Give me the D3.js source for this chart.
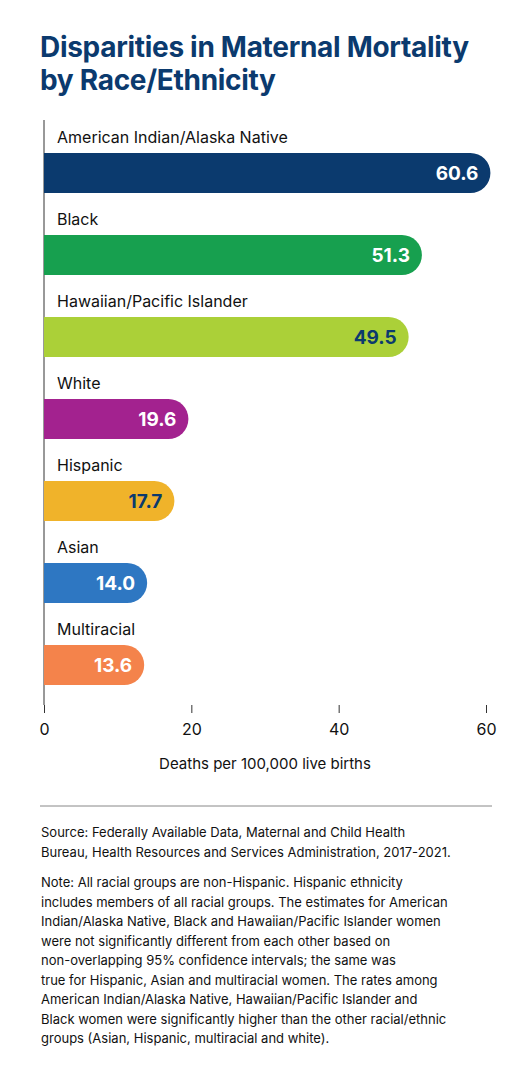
<!DOCTYPE html>
<html><head><meta charset="utf-8">
<script src="https://cdn.jsdelivr.net/npm/d3@7"></script>
<style>body{margin:0;background:#fff;font-family:Inter,"Open Sans",sans-serif}</style>
</head><body>
<svg id="chart" width="530" height="1072"></svg>
<script>
const groups = ["American Indian/Alaska Native","Black","Hawaiian/Pacific Islander","White","Hispanic","Asian","Multiracial"];
const rates = [60.6, 51.3, 49.5, 19.6, 17.7, 14.0, 13.6];
const barColors = ["#0b3a6e","#17a04f","#abd038","#a3228f","#f0b32a","#2e77c2","#f4834b"];
const valueColors = ["#fff","#fff","#0b3a6e","#fff","#0b3a6e","#fff","#fff"];
const ticks = [0, 20, 40, 60];
const sourceLines = ["Source: Federally Available Data, Maternal and Child Health",
 "Bureau, Health Resources and Services Administration, 2017-2021."];
const noteLines = ["Note: All racial groups are non-Hispanic. Hispanic ethnicity",
 "includes members of all racial groups. The estimates for American",
 "Indian/Alaska Native, Black and Hawaiian/Pacific Islander women",
 "were not significantly different from each other based on",
 "non-overlapping 95% confidence intervals; the same was",
 "true for Hispanic, Asian and multiracial women. The rates among",
 "American Indian/Alaska Native, Hawaiian/Pacific Islander and",
 "Black women were significantly higher than the other racial/ethnic",
 "groups (Asian, Hispanic, multiracial and white)."];

const svg = d3.select("#chart");
const dark = "#0b3a6e";

svg.selectAll("text.title").data(["Disparities in Maternal Mortality","by Race/Ethnicity"])
  .join("text").attr("x", 40).attr("y", (d,i) => 57 + i*33)
  .attr("font-size", 28).attr("font-weight", 700).attr("fill", dark).attr("letter-spacing", -0.3).text(d => d);

const x = d3.scaleLinear().domain([0, 60]).range([44, 486]);
const rowY = i => 153 + i*82;
const h = 40;

svg.append("line").attr("x1", 44).attr("x2", 44).attr("y1", 120).attr("y2", 705).attr("stroke", "#333").attr("stroke-width", 1);

const row = svg.selectAll("g.row").data(groups).join("g");
row.append("text").attr("x", 57).attr("y", (d,i) => rowY(i) - 10)
  .attr("font-size", 16).attr("fill", "#111").text(d => d);
row.append("path").attr("fill", (d,i) => barColors[i])
  .attr("d", (d,i) => {
    const y0 = rowY(i), x0 = x(0), x1 = x(rates[i]), r = h/2;
    return `M${x0},${y0}H${x1-r}A${r},${r} 0 0 1 ${x1-r},${y0+h}H${x0}Z`;
  });
row.append("text").attr("x", (d,i) => x(rates[i]) - 12).attr("y", (d,i) => rowY(i) + 27)
  .attr("text-anchor", "end").attr("font-size", 19).attr("font-weight", 700)
  .attr("fill", (d,i) => valueColors[i]).text((d,i) => rates[i].toFixed(1));

const axis = svg.append("g").attr("transform", "translate(0,705)")
  .call(d3.axisBottom(x).tickValues(ticks).tickSize(8).tickFormat(d3.format("d")));
axis.select(".domain").remove();
axis.selectAll("line").attr("stroke", "#333");
axis.selectAll("text").attr("font-size", 16).attr("fill", "#111").attr("dy", "1.2em").attr("font-family", "Inter");

svg.append("text").attr("x", 265).attr("y", 769).attr("text-anchor", "middle")
  .attr("font-size", 15).attr("fill", "#111").text("Deaths per 100,000 live births");

svg.append("line").attr("x1", 40).attr("x2", 492).attr("y1", 806).attr("y2", 806).attr("stroke", "#888");

svg.selectAll("text.src").data(sourceLines).join("text")
  .attr("x", 41).attr("y", (d,i) => 837 + i*19.5).attr("font-size", 13).attr("fill", "#111").text(d => d);
svg.selectAll("text.note").data(noteLines).join("text")
  .attr("x", 41).attr("y", (d,i) => 887 + i*19.5).attr("font-size", 13).attr("fill", "#111").text(d => d);
</script>
</body></html>
